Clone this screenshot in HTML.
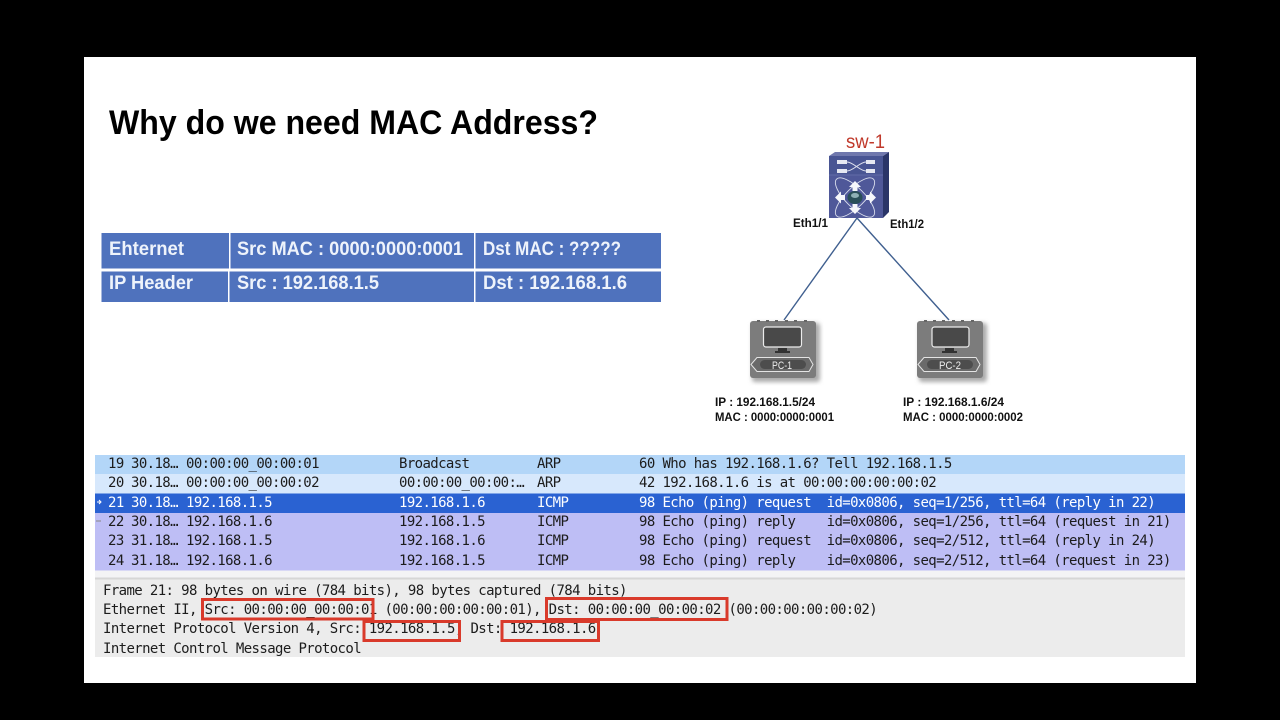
<!DOCTYPE html>
<html><head><meta charset="utf-8"><style>
html,body{margin:0;padding:0;background:#000;width:1280px;height:720px;overflow:hidden}
svg{display:block}
.m{font-family:"DejaVu Sans Mono","Liberation Mono",monospace;font-size:14px;letter-spacing:-0.61px;fill:#1c1c1c;white-space:pre}
.w{fill:#fff}
.t{font-family:"Liberation Sans",sans-serif;font-weight:bold;font-size:19px;fill:#eef3fb}
.l{font-family:"Liberation Sans",sans-serif;font-weight:bold;font-size:11.500px;fill:#111}
</style></head><body>
<svg width="1280" height="720" viewBox="0 0 1280 720" xmlns="http://www.w3.org/2000/svg">
<defs>
<filter id="s" x="-20%" y="-20%" width="140%" height="140%"><feGaussianBlur stdDeviation="2"/></filter>
<filter id="b" x="-5%" y="-5%" width="110%" height="110%"><feGaussianBlur stdDeviation="0.35"/></filter>
</defs>
<rect width="1280" height="720" fill="#000"/>
<rect x="84" y="57" width="1112" height="626" fill="#fff"/>
<text x="109" y="134" font-family="Liberation Sans,sans-serif" font-weight="bold" font-size="34" fill="#000" textLength="489" lengthAdjust="spacingAndGlyphs">Why do we need MAC Address?</text>

<!-- table -->
<g fill="#4f72bd">
<rect x="101.500" y="233" width="127.500" height="35.500"/><rect x="230.500" y="233" width="243.500" height="35.500"/><rect x="475.500" y="233" width="185.500" height="35.500"/>
<rect x="101.500" y="271.500" width="126.500" height="30.500"/><rect x="229.500" y="271.500" width="244.500" height="30.500"/><rect x="475.500" y="271.500" width="185.500" height="30.500"/>
</g>
<text class="t" x="109" y="255" textLength="75" lengthAdjust="spacingAndGlyphs">Ehternet</text>
<text class="t" x="237" y="255" textLength="226" lengthAdjust="spacingAndGlyphs">Src MAC : 0000:0000:0001</text>
<text class="t" x="483" y="255" textLength="138" lengthAdjust="spacingAndGlyphs">Dst MAC : ?????</text>
<text class="t" x="109" y="289" textLength="84" lengthAdjust="spacingAndGlyphs">IP Header</text>
<text class="t" x="237" y="289" textLength="142" lengthAdjust="spacingAndGlyphs">Src : 192.168.1.5</text>
<text class="t" x="483" y="289" textLength="144" lengthAdjust="spacingAndGlyphs">Dst : 192.168.1.6</text>

<!-- links -->
<line x1="857" y1="218" x2="784" y2="320" stroke="#3f5f8f" stroke-width="1.400"/>
<line x1="857" y1="218" x2="949" y2="320" stroke="#3f5f8f" stroke-width="1.400"/>

<!-- switch -->
<text x="846" y="148" font-family="Liberation Sans,sans-serif" font-size="19" fill="#c0392b" textLength="39" lengthAdjust="spacingAndGlyphs">sw-1</text>
<g filter="url(#b)">
<polygon points="829,156 835,152 889,152 883,156" fill="#6f78ad"/>
<polygon points="883,156 889,152 889,212 883,218" fill="#2c3468"/>
<rect x="829" y="156" width="54" height="62" fill="#4f5999"/>
<rect x="829" y="156" width="54" height="19" fill="#4a5493"/>
<line x1="829" y1="175" x2="883" y2="175" stroke="#626ca8" stroke-width="1"/>
<g fill="#e6e8f2"><rect x="837" y="160" width="10" height="4"/><rect x="866" y="160" width="9" height="4"/><rect x="837" y="169" width="10" height="4"/><rect x="866" y="169" width="9" height="4"/></g>
<path d="M847 162C853 162 860 171 866 171M847 171C853 171 860 162 866 162" stroke="#dfe2ef" stroke-width="1" fill="none"/>
<g fill="none" stroke="#d8dcec" stroke-width="0.900">
<ellipse cx="855" cy="197.500" rx="26" ry="9.500" transform="rotate(45 855 197.500)"/>
<ellipse cx="855" cy="197.500" rx="26" ry="9.500" transform="rotate(-45 855 197.500)"/>
</g>
<g fill="#f6f7fb">
<path d="M855 181l6 6h-3.500v4h-5v-4h-3.500z"/><path d="M855 214l6-6h-3.500v-4h-5v4h-3.500z"/>
<path d="M835 197.500l6-6v3.500h4v5h-4v3.500z"/><path d="M876 197.500l-6-6v3.500h-4v5h4v3.500z"/>
</g>
<ellipse cx="855" cy="197.500" rx="7.500" ry="6.500" fill="#2b5058"/>
<ellipse cx="855" cy="195.500" rx="4" ry="2.500" fill="#8fb0b5"/>
</g>
<text class="l" x="793" y="227" textLength="35" lengthAdjust="spacingAndGlyphs">Eth1/1</text>
<text class="l" x="890" y="228" textLength="34" lengthAdjust="spacingAndGlyphs">Eth1/2</text>

<!-- PC-1 -->
<g transform="translate(750,320)" filter="url(#b)">
<rect x="2" y="3" width="68" height="59" rx="3" fill="#aaa" filter="url(#s)"/>
<rect x="0" y="1" width="66" height="57" rx="3" fill="#7b7b7b"/>
<g fill="#666"><rect x="7" y="0" width="3" height="2"/><rect x="16" y="0" width="3" height="2"/><rect x="25" y="0" width="3" height="2"/><rect x="35" y="0" width="3" height="2"/><rect x="44" y="0" width="3" height="2"/><rect x="54" y="0" width="3" height="2"/></g>
<rect x="13.500" y="7" width="38" height="20" rx="2.500" fill="#4a4a4a" stroke="#ececec" stroke-width="1.200"/>
<path d="M28 28h9v3h3v2h-15v-2h3z" fill="#333"/>
<polygon points="1,44.500 7,37.500 59,37.500 63,44.500 59,51.500 7,51.500" fill="#6b6b6b" stroke="#e4e4e4" stroke-width="1"/>
<rect x="10" y="40" width="46" height="9" rx="4.500" fill="#4d4d4d"/>
<text x="22" y="49" font-family="Liberation Sans,sans-serif" font-size="11" fill="#eee" textLength="20" lengthAdjust="spacingAndGlyphs">PC-1</text>
</g>
<!-- PC-2 -->
<g transform="translate(917,320)" filter="url(#b)">
<rect x="2" y="3" width="68" height="59" rx="3" fill="#aaa" filter="url(#s)"/>
<rect x="0" y="1" width="66" height="57" rx="3" fill="#7b7b7b"/>
<g fill="#666"><rect x="7" y="0" width="3" height="2"/><rect x="16" y="0" width="3" height="2"/><rect x="25" y="0" width="3" height="2"/><rect x="35" y="0" width="3" height="2"/><rect x="44" y="0" width="3" height="2"/><rect x="54" y="0" width="3" height="2"/></g>
<rect x="15" y="7" width="37" height="20" rx="2.500" fill="#4a4a4a" stroke="#ececec" stroke-width="1.200"/>
<path d="M28 28h9v3h3v2h-15v-2h3z" fill="#333"/>
<polygon points="1,44.500 7,37.500 59,37.500 63,44.500 59,51.500 7,51.500" fill="#6b6b6b" stroke="#e4e4e4" stroke-width="1"/>
<rect x="10" y="40" width="46" height="9" rx="4.500" fill="#4d4d4d"/>
<text x="22" y="49" font-family="Liberation Sans,sans-serif" font-size="11" fill="#eee" textLength="22" lengthAdjust="spacingAndGlyphs">PC-2</text>
</g>
<text class="l" x="715" y="406" textLength="100" lengthAdjust="spacingAndGlyphs">IP : 192.168.1.5/24</text>
<text class="l" x="715" y="421" textLength="119" lengthAdjust="spacingAndGlyphs">MAC : 0000:0000:0001</text>
<text class="l" x="903" y="406" textLength="101" lengthAdjust="spacingAndGlyphs">IP : 192.168.1.6/24</text>
<text class="l" x="903" y="421" textLength="120" lengthAdjust="spacingAndGlyphs">MAC : 0000:0000:0002</text>

<!-- packet list -->
<rect x="95" y="455" width="1090" height="19" fill="#b3d6f8"/>
<rect x="95" y="474" width="1090" height="19.500" fill="#d7e8fc"/>
<rect x="95" y="493.500" width="1090" height="19.500" fill="#2a62d2"/>
<rect x="95" y="513" width="1090" height="57.500" fill="#bebef5"/>
<rect x="95" y="570.500" width="1090" height="7" fill="#f3f3f5"/>
<rect x="95" y="577.500" width="1090" height="2" fill="#d6d6d6"/>
<rect x="95" y="579.500" width="1090" height="77.500" fill="#ececec"/>

<text class="m" x="108" y="468">19</text><text class="m" x="131" y="468">30.18…</text><text class="m" x="186" y="468">00:00:00_00:00:01</text><text class="m" x="399" y="468">Broadcast</text><text class="m" x="537" y="468">ARP</text><text class="m" x="639" y="468">60 Who has 192.168.1.6? Tell 192.168.1.5</text>
<text class="m" x="108" y="487">20</text><text class="m" x="131" y="487">30.18…</text><text class="m" x="186" y="487">00:00:00_00:00:02</text><text class="m" x="399" y="487">00:00:00_00:00:…</text><text class="m" x="537" y="487">ARP</text><text class="m" x="639" y="487">42 192.168.1.6 is at 00:00:00:00:00:02</text>
<text class="m w" x="108" y="507">21</text><text class="m w" x="131" y="507">30.18…</text><text class="m w" x="186" y="507">192.168.1.5</text><text class="m w" x="399" y="507">192.168.1.6</text><text class="m w" x="537" y="507">ICMP</text><text class="m w" x="639" y="507">98 Echo (ping) request  id=0x0806, seq=1/256, ttl=64 (reply in 22)</text>
<path d="M97 502h3M99 500l2 2-2 2" stroke="#fff" stroke-width="1" fill="none"/>
<line x1="96" y1="521" x2="101" y2="521" stroke="#888" stroke-width="1"/>
<text class="m" x="108" y="526">22</text><text class="m" x="131" y="526">30.18…</text><text class="m" x="186" y="526">192.168.1.6</text><text class="m" x="399" y="526">192.168.1.5</text><text class="m" x="537" y="526">ICMP</text><text class="m" x="639" y="526">98 Echo (ping) reply    id=0x0806, seq=1/256, ttl=64 (request in 21)</text>
<text class="m" x="108" y="545">23</text><text class="m" x="131" y="545">31.18…</text><text class="m" x="186" y="545">192.168.1.5</text><text class="m" x="399" y="545">192.168.1.6</text><text class="m" x="537" y="545">ICMP</text><text class="m" x="639" y="545">98 Echo (ping) request  id=0x0806, seq=2/512, ttl=64 (reply in 24)</text>
<text class="m" x="108" y="565">24</text><text class="m" x="131" y="565">31.18…</text><text class="m" x="186" y="565">192.168.1.6</text><text class="m" x="399" y="565">192.168.1.5</text><text class="m" x="537" y="565">ICMP</text><text class="m" x="639" y="565">98 Echo (ping) reply    id=0x0806, seq=2/512, ttl=64 (request in 23)</text>

<!-- details -->
<text class="m" x="103" y="595">Frame 21: 98 bytes on wire (784 bits), 98 bytes captured (784 bits)</text>
<text class="m" x="103" y="614">Ethernet II, Src: 00:00:00_00:00:01 (00:00:00:00:00:01), Dst: 00:00:00_00:00:02 (00:00:00:00:00:02)</text>
<text class="m" x="103" y="633">Internet Protocol Version 4, Src: 192.168.1.5, Dst: 192.168.1.6</text>
<text class="m" x="103" y="653">Internet Control Message Protocol</text>

<g fill="none" stroke="#d93a2b" stroke-width="3">
<rect x="202.500" y="599.500" width="170.500" height="19.500"/>
<rect x="546.500" y="598.500" width="180.500" height="21"/>
<rect x="364" y="621.500" width="95.500" height="19"/>
<rect x="502" y="621.500" width="96.500" height="19"/>
</g>
</svg>
</body></html>
